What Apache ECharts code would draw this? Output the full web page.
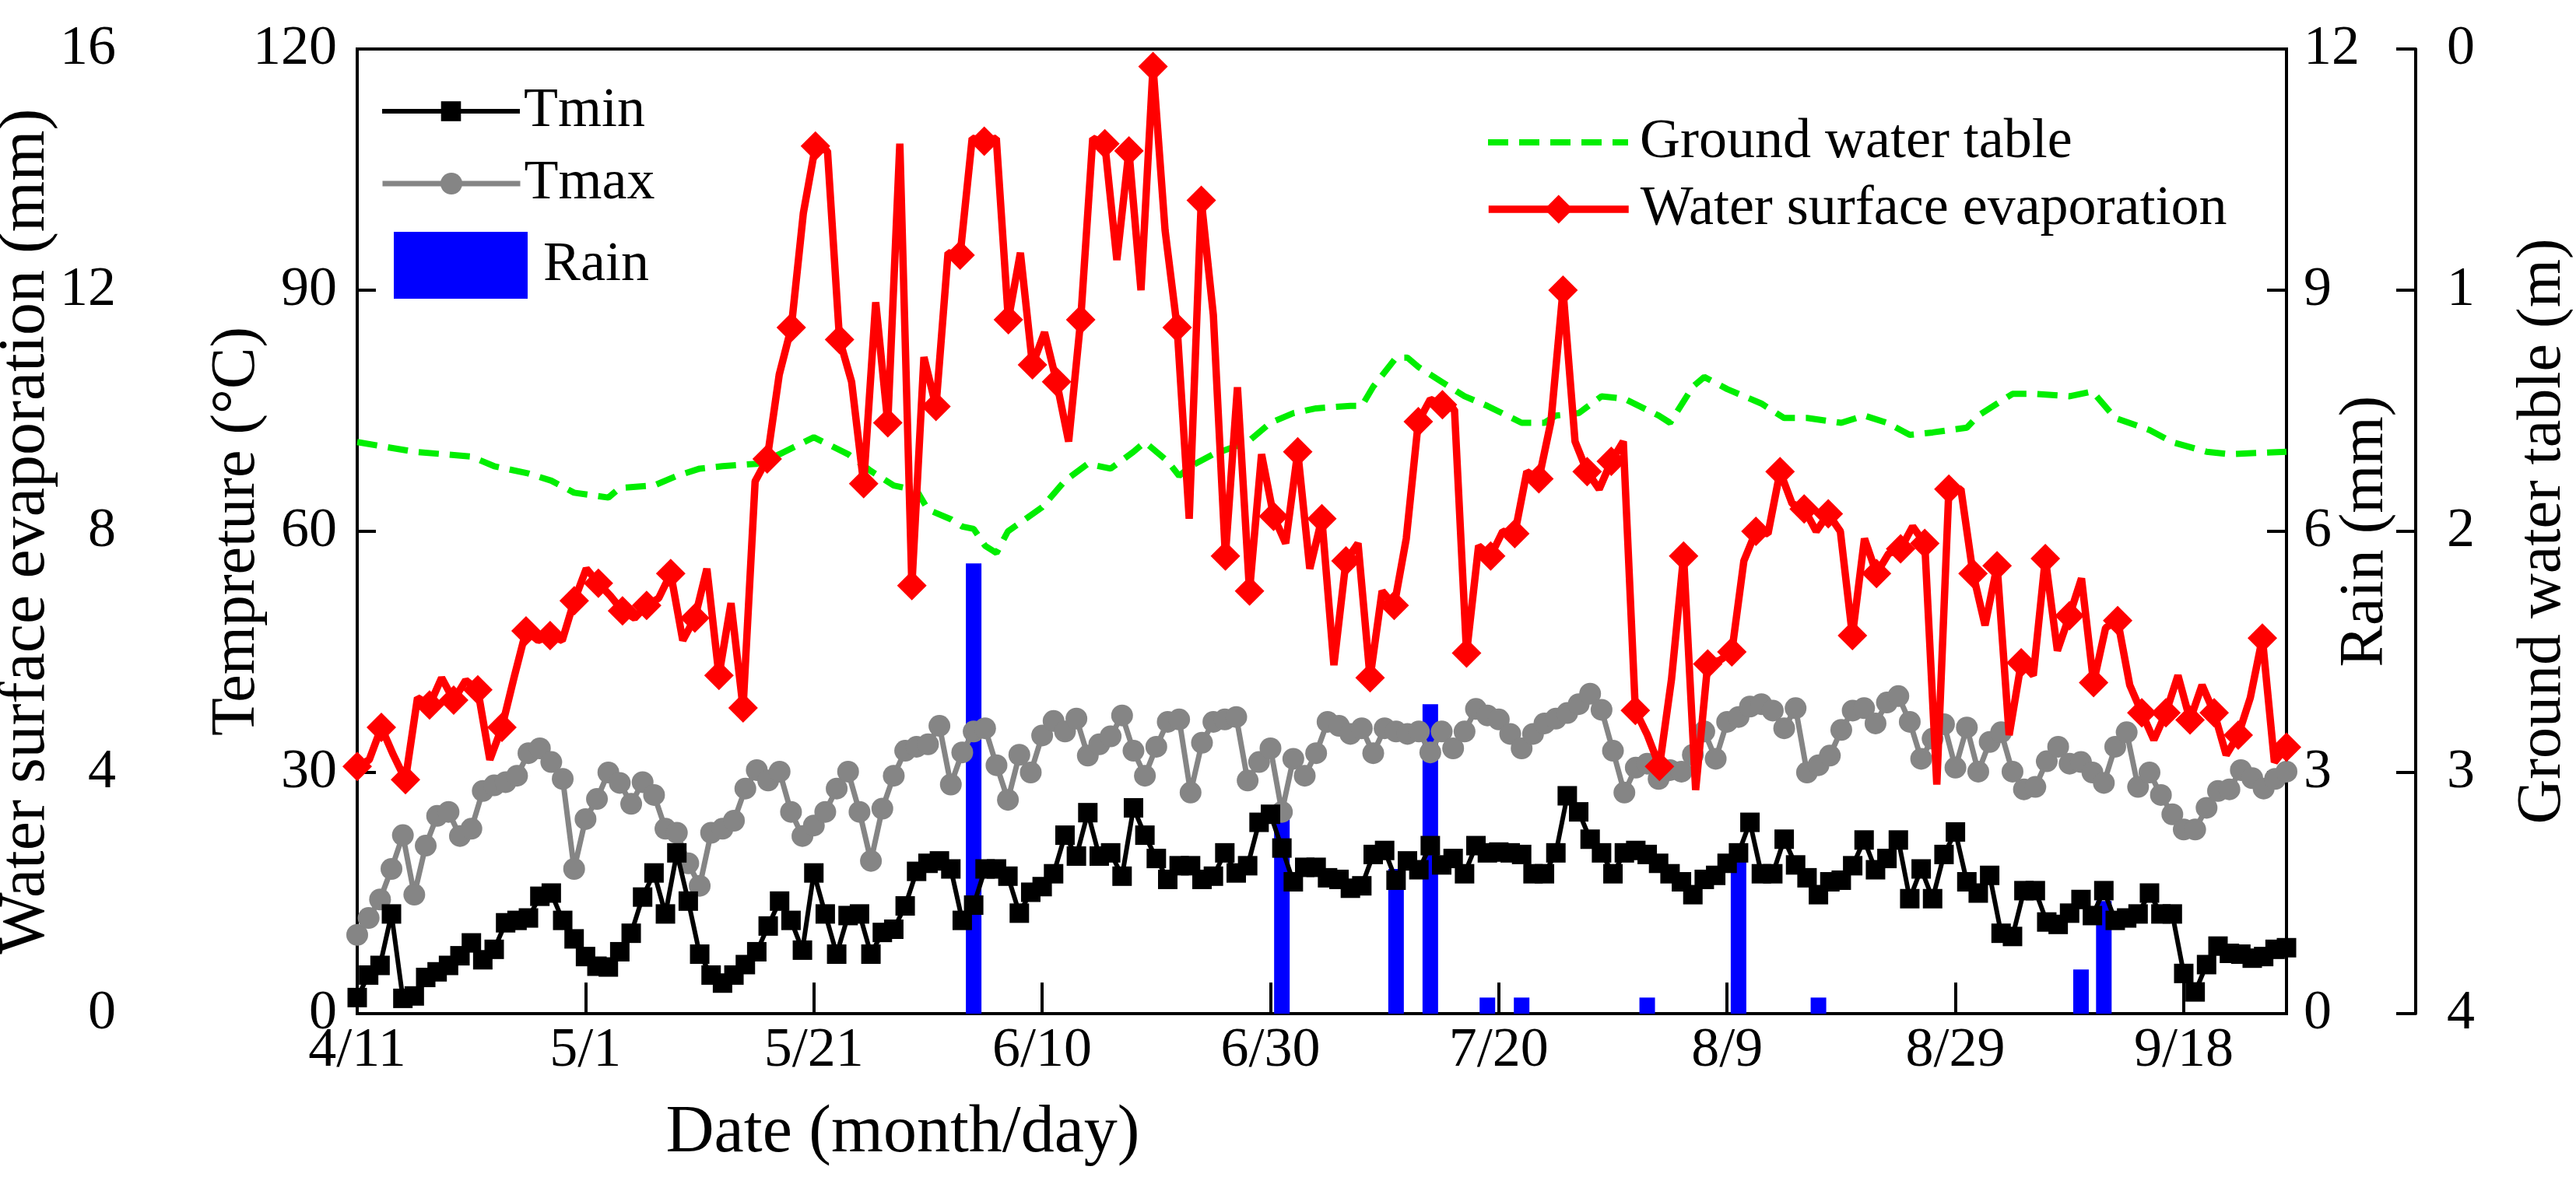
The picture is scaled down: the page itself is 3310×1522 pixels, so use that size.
<!DOCTYPE html>
<html><head><meta charset="utf-8">
<script src="https://cdn.jsdelivr.net/npm/echarts/dist/echarts.min.js"></script>
<style>html,body{margin:0;padding:0;background:#fff}#c{width:3310px;height:1522px}</style>
</head><body><div id="c"></div>
<script>
const tickLabels = ['4/11','5/1','5/21','6/10','6/30','7/20','8/9','8/29','9/18'];
const tmin = [2.0,4.8,6.0,12.4,1.9,2.2,4.5,5.2,6.0,7.2,
 8.8,6.7,8.0,11.3,11.6,11.9,14.6,15.0,11.6,9.3,
 7.1,5.9,5.8,7.7,10.0,14.5,17.5,12.4,20.0,14.0,
 7.4,4.8,3.8,4.8,6.1,7.7,10.9,14.0,11.6,7.9,
 17.5,12.4,7.4,12.2,12.4,7.4,10.1,10.5,13.4,17.7,
 18.7,19.0,18.0,11.6,13.5,18.0,18.0,17.1,12.5,15.1,
 15.8,17.4,22.2,19.6,25.0,19.6,20.0,17.1,25.6,22.2,
 19.3,16.7,18.4,18.4,16.7,17.1,20.0,17.5,18.4,23.8,
 24.8,20.6,16.4,18.2,18.2,16.9,16.7,15.6,15.9,19.8,
 20.3,16.6,19.0,17.9,20.9,18.5,19.3,17.4,20.9,20.0,
 20.1,20.0,19.8,17.4,17.4,20.0,27.1,25.1,21.7,20.0,
 17.4,20.0,20.3,19.8,18.7,17.4,16.4,14.8,16.7,17.2,
 18.7,20.0,23.8,17.4,17.4,21.7,18.5,16.9,14.8,16.4,
 16.6,18.4,21.6,17.9,19.3,21.6,14.3,18.0,14.3,19.8,
 22.6,16.4,15.0,17.2,10.0,9.6,15.3,15.3,11.4,11.1,
 12.5,14.2,12.2,15.3,11.6,11.9,12.4,15.0,12.4,12.4,
 5.0,2.7,6.1,8.4,7.5,7.4,6.9,7.1,8.0,8.2];
const tmax = [9.8,11.9,14.2,18.0,22.2,14.8,20.9,24.6,25.1,22.1,
 23.0,27.7,28.4,28.8,29.6,32.4,33.0,31.3,29.2,18.0,
 24.2,26.7,30.0,28.7,26.1,28.8,27.2,23.0,22.5,18.7,
 15.9,22.5,23.0,24.0,28.0,30.3,29.0,30.1,25.1,22.1,
 23.4,25.1,28.0,30.1,25.1,19.0,25.5,29.6,32.7,33.2,
 33.5,35.8,28.5,32.5,35.1,35.5,30.9,26.6,32.2,30.0,
 34.6,36.4,35.1,36.7,32.1,33.5,34.5,37.1,32.7,29.6,
 33.2,36.3,36.6,27.5,33.7,36.3,36.6,36.9,29.0,31.3,
 33.0,25.1,31.7,29.6,32.4,36.3,35.8,34.8,35.5,32.4,
 35.5,35.1,34.8,35.1,32.5,35.1,33.0,35.1,37.9,37.1,
 36.6,34.8,33.0,34.8,36.1,36.7,37.4,38.5,39.8,37.8,
 32.7,27.5,30.6,31.1,29.2,30.3,30.1,32.2,35.1,31.7,
 36.3,36.9,38.2,38.5,37.7,35.5,38.0,30.0,30.9,32.1,
 35.3,37.7,38.0,36.1,38.7,39.5,36.3,31.7,34.2,36.0,
 30.6,35.6,30.1,33.8,35.0,30.1,27.9,28.2,31.4,33.2,
 31.1,31.3,30.0,28.7,33.2,35.0,28.2,30.0,27.2,24.8,
 22.9,22.9,25.6,27.7,27.9,30.3,29.3,28.0,29.2,30.1];
const evap = [4.1,4.21,4.75,4.29,3.88,5.24,5.12,5.57,5.2,5.53,
 5.37,4.21,4.75,5.57,6.35,6.19,6.27,6.19,6.85,7.38,
 7.14,6.93,6.68,6.56,6.77,6.89,7.3,6.19,6.56,7.38,
 5.61,6.81,5.07,8.83,9.2,10.6,11.38,13.28,14.39,14.31,
 11.18,10.48,8.79,11.8,9.8,14.43,7.1,10.89,10.07,12.62,
 12.58,14.52,14.47,14.52,11.51,12.62,10.76,11.3,10.48,9.49,
 11.51,14.52,14.43,12.5,14.31,12.0,15.71,12.99,11.38,8.21,
 13.49,11.59,7.59,10.39,7.01,9.28,8.25,7.8,9.32,7.38,
 8.21,5.78,7.51,7.8,5.57,7.01,6.77,7.88,9.82,10.19,
 10.1,10.02,5.98,7.76,7.59,8.0,7.96,8.99,8.87,9.82,
 12.0,9.49,8.99,8.7,9.16,9.49,5.03,4.62,4.1,5.55,
 7.59,3.71,5.8,5.86,6.0,7.51,8.0,7.96,8.99,8.46,
 8.37,8.0,8.29,8.0,6.27,7.88,7.3,7.63,7.71,8.08,
 7.8,3.8,8.7,8.7,7.3,6.44,7.43,4.62,5.82,5.61,
 7.55,6.02,6.6,7.22,5.49,6.4,6.52,5.45,4.99,4.54,
 4.99,5.61,4.87,5.45,4.99,4.29,4.62,5.24,6.23,4.17,
 4.42];
const rainDay = [54,81,91,94,99,102,113,121,128,151,153];
const rainMm  = [5.6,2.5,1.8,3.85,0.2,0.2,0.2,1.9,0.2,0.55,1.4];
const gwDay = [0,5,10,12,15,17,19,22,23,26,28,30,32,35,37,40,43,45,47,49,50,52,53,54,55,56,57,60,62,64,66,68,69,71,72,73,75,78,80,82,84,87,88,89,91,92,93,95,97,99,102,104,105,107,109,111,114,115,117,118,120,123,125,127,130,132,134,136,138,141,142,145,147,150,152,154,157,159,162,164,169];
const gwDepth = [1.63,1.67,1.69,1.73,1.76,1.79,1.84,1.86,1.82,1.81,1.77,1.74,1.73,1.72,1.68,1.61,1.68,1.75,1.81,1.83,1.91,1.95,1.98,1.99,2.06,2.09,2.0,1.9,1.79,1.72,1.74,1.67,1.63,1.71,1.77,1.73,1.68,1.63,1.55,1.51,1.49,1.48,1.48,1.40,1.28,1.28,1.32,1.38,1.44,1.48,1.55,1.55,1.52,1.51,1.44,1.45,1.52,1.55,1.40,1.36,1.41,1.47,1.53,1.53,1.55,1.52,1.55,1.60,1.59,1.57,1.52,1.43,1.43,1.44,1.42,1.53,1.58,1.63,1.67,1.68,1.67];

const FONT = 'Liberation Serif';
const txt = {fontFamily: FONT, color: '#000'};
const W = {tmin: 6, tmax: 7, gw: 8, evap: 9.5};
const chart = echarts.init(document.getElementById('c'), null, {renderer: 'canvas'});
const legendText = pad => Object.assign({fontSize: 72, lineHeight: 80, padding: [0, 0, 0, pad]}, txt);
const legendBase = {orient: 'vertical', selectedMode: false, itemGap: 0};
chart.setOption({
  animation: false,
  backgroundColor: '#fff',
  grid: {left: 459, right: 372, top: 63, bottom: 219, show: true, borderColor: '#000', borderWidth: 4,
         containLabel: false, outerBoundsMode: 'none'},
  legend: [
    Object.assign({}, legendBase, {data: ['Tmin'], left: 483, top: 98, itemWidth: 177, itemHeight: 32,
      lineStyle: {width: W.tmin}, textStyle: legendText(0)}),
    Object.assign({}, legendBase, {data: ['Tmax'], left: 483, top: 191, itemWidth: 177, itemHeight: 35,
      lineStyle: {width: W.tmax}, textStyle: legendText(0)}),
    Object.assign({}, legendBase, {data: [{name: 'Rain', icon: 'rect'}], left: 501, top: 293, itemWidth: 172, itemHeight: 86,
      textStyle: legendText(15)}),
    Object.assign({}, legendBase, {data: [{name: 'Ground water table', itemStyle: {opacity: 0}}], left: 1903, top: 138,
      itemWidth: 180, itemHeight: 20, lineStyle: {width: W.gw}, textStyle: legendText(10)}),
    Object.assign({}, legendBase, {data: ['Water surface evaporation'], left: 1903, top: 224, itemWidth: 180, itemHeight: 46,
      lineStyle: {width: W.evap}, textStyle: legendText(10)})
  ],
  xAxis: [
    {type: 'value', min: 0, max: 169, interval: 20, position: 'bottom',
     axisLine: {show: true, lineStyle: {color: '#000', width: 4}},
     axisTick: {show: true, inside: true, length: 40, lineStyle: {color: '#000', width: 4}},
     axisLabel: Object.assign({fontSize: 72, margin: 12, showMaxLabel: false,
       formatter: v => (v % 20 === 0 ? tickLabels[v / 20] : '')}, txt),
     splitLine: {show: false}},
    {type: 'category', data: evap.map((_, i) => String(i)), boundaryGap: false, show: false}
  ],
  yAxis: [
    {type: 'value', position: 'left', min: 0, max: 120, interval: 30,
     name: 'Tempreture (°C)', nameLocation: 'middle', nameGap: 114, nameRotate: 90, nameMoveOverlap: false,
     nameTextStyle: Object.assign({fontSize: 80}, txt),
     axisLine: {show: true, lineStyle: {color: '#000', width: 4}},
     axisTick: {show: true, inside: true, length: 24, lineStyle: {color: '#000', width: 4}},
     axisLabel: Object.assign({fontSize: 72, margin: 26}, txt), splitLine: {show: false}},
    {type: 'value', position: 'left', offset: 300, min: 0, max: 16, interval: 4,
     name: 'Water surface evaporation (mm)', nameLocation: 'middle', nameGap: 83, nameRotate: 90, nameMoveOverlap: false,
     nameTextStyle: Object.assign({fontSize: 84}, txt),
     axisLine: {show: false}, axisTick: {show: false},
     axisLabel: Object.assign({fontSize: 72, margin: 10}, txt), splitLine: {show: false}},
    {type: 'value', position: 'right', min: 0, max: 12, interval: 3,
     name: 'Rain (mm)', nameLocation: 'middle', nameGap: 62, nameRotate: 90, nameMoveOverlap: false,
     nameTextStyle: Object.assign({fontSize: 80}, txt),
     axisLine: {show: true, lineStyle: {color: '#000', width: 4}},
     axisTick: {show: true, inside: true, length: 25, lineStyle: {color: '#000', width: 4}},
     axisLabel: Object.assign({fontSize: 72, margin: 22}, txt), splitLine: {show: false}},
    {type: 'value', position: 'right', offset: 166, min: 0, max: 4, interval: 1, inverse: true,
     name: 'Ground water table (m)', nameLocation: 'middle', nameGap: 124, nameRotate: 90, nameMoveOverlap: false,
     nameTextStyle: Object.assign({fontSize: 80}, txt),
     axisLine: {show: true, lineStyle: {color: '#000', width: 4}},
     axisTick: {show: true, inside: true, length: 25, lineStyle: {color: '#000', width: 4}},
     axisLabel: Object.assign({fontSize: 72, margin: 40}, txt), splitLine: {show: false}}
  ],
  graphic: [
    {type: 'text', style: {text: 'Date (month/day)', fontSize: 86, fontFamily: FONT, fill: '#000',
      x: 1160, y: 1457, align: 'center', verticalAlign: 'middle'}}
  ],
  series: [
    {name: 'Rain', type: 'bar', xAxisIndex: 0, yAxisIndex: 2, barWidth: 20, z: 1,
     itemStyle: {color: '#0000ff'}, data: rainDay.map((d, i) => [d, rainMm[i]])},
    {name: 'Ground water table', type: 'line', xAxisIndex: 0, yAxisIndex: 3, symbol: 'none', z: 2,
     itemStyle: {color: '#00ee00'}, lineStyle: {color: '#00ee00', width: W.gw, type: [26, 14]},
     data: gwDay.map((d, i) => [d, gwDepth[i]])},
    {name: 'Tmax', type: 'line', xAxisIndex: 0, yAxisIndex: 0, symbol: 'circle', symbolSize: 28, z: 3,
     itemStyle: {color: '#858585'}, lineStyle: {color: '#858585', width: W.tmax},
     data: tmax.map((v, i) => [i, v])},
    {name: 'Tmin', type: 'line', xAxisIndex: 0, yAxisIndex: 0, symbol: 'rect', symbolSize: 25, z: 4,
     itemStyle: {color: '#000'}, lineStyle: {color: '#000', width: W.tmin},
     data: tmin.map((v, i) => [i, v])},
    {name: 'Water surface evaporation', type: 'line', xAxisIndex: 1, yAxisIndex: 1, symbol: 'diamond', symbolSize: 38, z: 5,
     itemStyle: {color: '#ff0000'}, lineStyle: {color: '#ff0000', width: W.evap},
     data: evap}
  ]
});
</script></body></html>
